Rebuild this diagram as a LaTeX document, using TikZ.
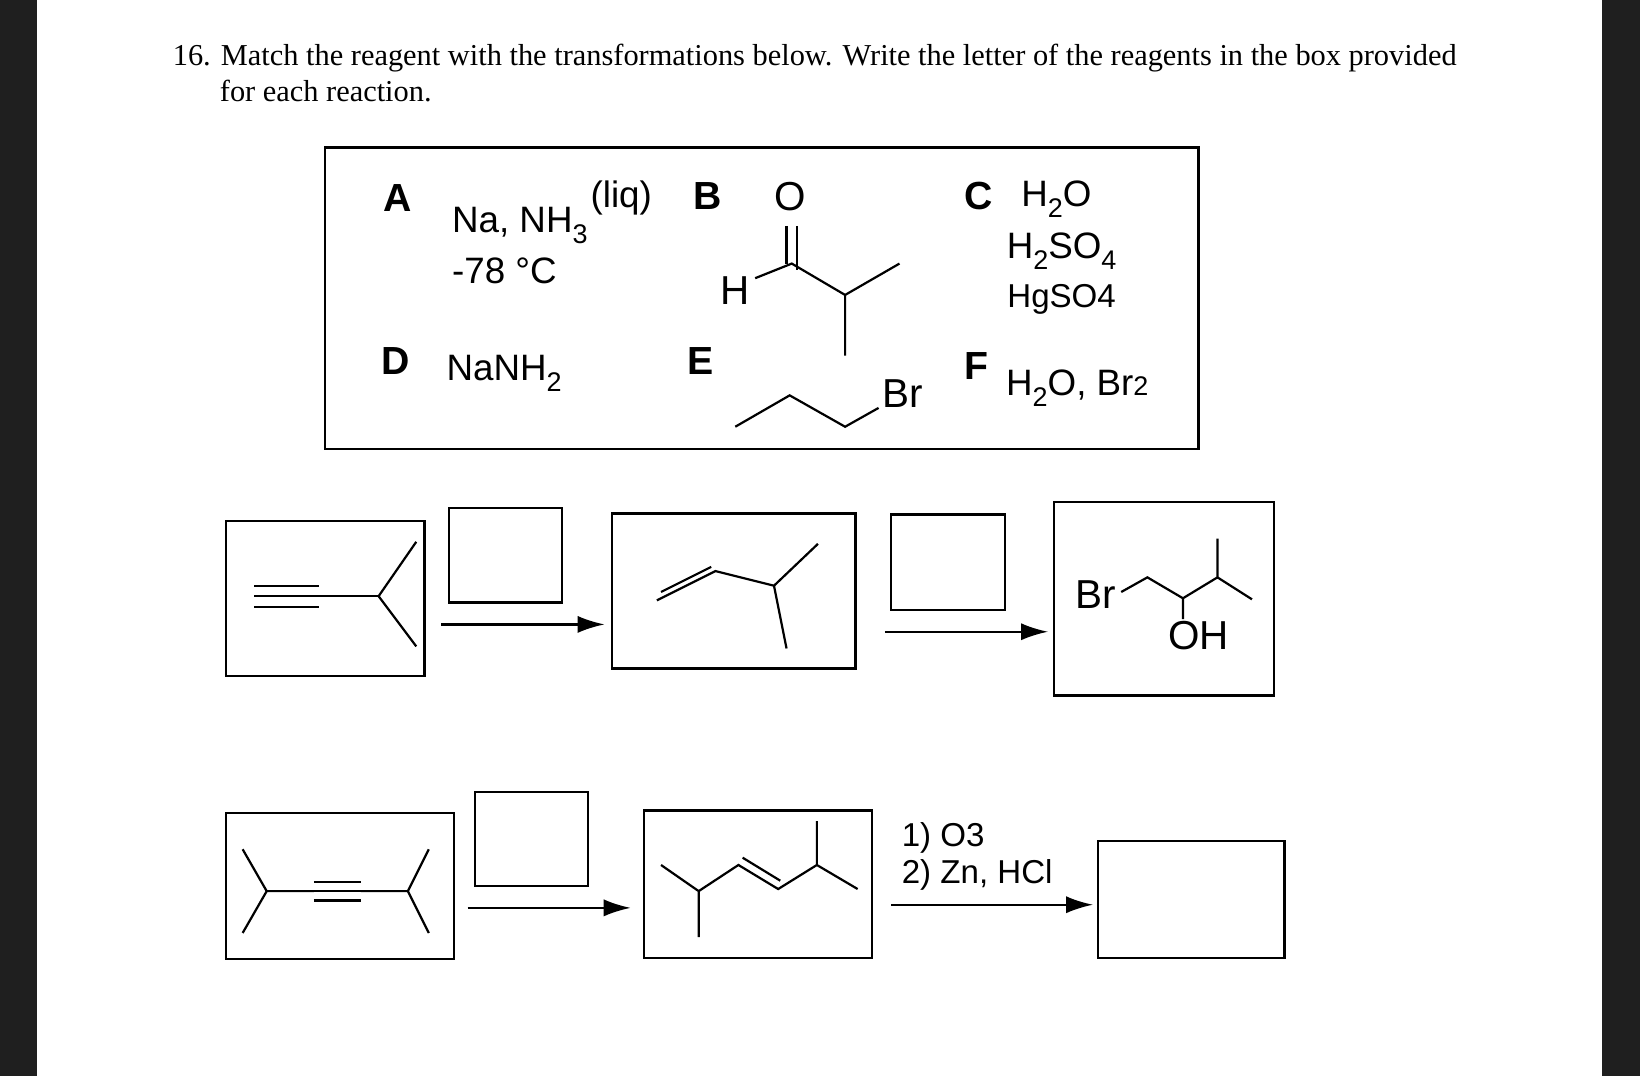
\documentclass[tikz,border=0pt]{standalone}
\usepackage{fontspec}
\setmainfont{Liberation Serif}
\newfontfamily\chem{Liberation Sans}
\newcommand{\sbs}[1]{\raisebox{-0.3em}{\fontsize{22}{24}\selectfont #1}}
\newcommand{\smd}[1]{{\fontsize{22}{24}\selectfont #1}}
\begin{document}
\begin{tikzpicture}[x=0.03cm,y=-0.03cm,
  bx/.style={draw,line width=1.9pt},
  bd/.style={line width=1.8pt},
  arr/.style={line width=1.8pt,-{Latex[length=22pt,width=14pt]}},
  ch/.style={font=\chem\fontsize{30}{32}\selectfont,inner sep=0pt},
  atomlab/.style={font=\chem\fontsize{33}{35}\selectfont,inner sep=0pt},
  sm/.style={font=\chem\fontsize{27}{29}\selectfont,inner sep=0pt},
  lab/.style={font=\chem\bfseries\fontsize{32}{34}\selectfont,inner sep=0pt},
  tt/.style={font=\fontsize{24.8}{26}\selectfont,inner sep=0pt,anchor=base west}]
\usetikzlibrary{arrows.meta}
\useasboundingbox (0,0) rectangle (1568,1029);
\fill[black!88] (0,0) rectangle (35,1029);
\fill[black!88] (1532,0) rectangle (1568,1029);
\node[tt] (t1) at (165,63) {16. Match the reagent with the transformations below. Write the letter of the reagents in the box provided};
\node[tt] (t2) at (210,97) {for each reaction.};
% reagent box
\draw[bx] (311,141) rectangle (1146,429);
\node[lab] (A) at (380,189) {A};
\node[ch,anchor=base west] (a1) at (432,222) {Na, NH\sbs{3}};
\node[ch] (a2) at (594,189) {(liq)};
\node[ch,anchor=base west] (a3) at (432,271) {-78 °C};
\node[lab] (B) at (677,187) {B};
\node[atomlab] (O) at (756,188) {O};
\node[atomlab] (H) at (703,278) {H};
\draw[bd] (752,216) -- (752,252) (762,216) -- (762,258);
\draw[bd] (722,266) -- (757,252) -- (808,282) -- (860,252) (808,282) -- (808,340);
\node[lab] (C) at (936,187) {C};
\node[ch] (c1) at (1010,190) {H\sbs{2}O};
\node[ch] (c2) at (1015,240) {H\sbs{2}SO\sbs{4}};
\node[sm] (c3) at (1015,286) {HgSO4};
\node[lab] (D) at (378,345) {D};
\node[ch] (d1) at (482,357) {NaNH\sbs{2}};
\node[lab] (E) at (670,345) {E};
\draw[bd] (703,408) -- (755,378) -- (808,408) -- (840,390);
\node[atomlab] (Br1) at (863,376) {Br};
\node[lab] (F) at (934,350) {F};
\node[ch] (f1) at (1030,371) {H\sbs{2}O, Br\smd{2}};
% row 2
\draw[bx] (216,498) rectangle (406,646);
\draw[bd] (243,560) -- (305,560) (243,570) -- (362,570) (243,580) -- (305,580);
\draw[bd] (398,518) -- (362,570) -- (398,618);
\draw[bx] (429,486) rectangle (537,576);
\coordinate (r1s) at (422,597); \coordinate (r1e) at (578,597);
\draw[arr] (r1s) -- (r1e);
\draw[bx] (585,491) rectangle (818,639);
\draw[bd] (628,574) -- (684,546) -- (740,560) -- (782,520) (740,560) -- (752,620);
\draw[bd] (632,566) -- (680,542);
\draw[bx] (852,492) rectangle (961,583);
\coordinate (r2s) at (846,604); \coordinate (r2e) at (1002,604);
\draw[arr] (r2s) -- (r2e);
\draw[bx] (1008,480) rectangle (1218,665);
\node[atomlab] (Br2) at (1048,568) {Br};
\draw[bd] (1072,566) -- (1097,552) -- (1131,572) -- (1164,552) -- (1197,573) (1164,552) -- (1164,515) (1131,572) -- (1131,592);
\node[atomlab] (OH) at (1146,608) {OH};
% row 3
\draw[bx] (216,777) rectangle (434,917);
\draw[bd] (232,812) -- (255,852) -- (232,892) (255,852) -- (300,852) (345,852) -- (390,852);
\draw[bd] (300,843) -- (345,843) (300,852) -- (345,852) (300,861) -- (345,861);
\draw[bd] (410,812) -- (390,852) -- (410,892);
\draw[bx] (454,757) rectangle (562,847);
\coordinate (r3s) at (447,868); \coordinate (r3e) at (603,868);
\draw[arr] (r3s) -- (r3e);
\draw[bx] (616,775) rectangle (834,916);
\draw[bd] (632,827) -- (668,852) -- (706,827) -- (744,850) -- (781,827) -- (820,850) (668,852) -- (668,896) (781,827) -- (781,785);
\draw[bd] (710,820) -- (746,842);
\node[sm,anchor=base west] (o1) at (862,809) {1) O3};
\node[sm,anchor=base west] (o2) at (862,845) {2) Zn, HCl};
\coordinate (r4s) at (852,865); \coordinate (r4e) at (1045,865);
\draw[arr] (r4s) -- (r4e);
\draw[bx] (1050,804) rectangle (1228,916);
\end{tikzpicture}
\end{document}
